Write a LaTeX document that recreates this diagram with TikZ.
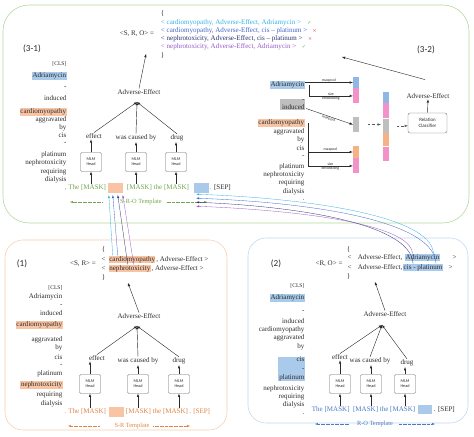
\documentclass[tikz,border=0pt]{standalone}
\usepackage{fontspec}
\setmainfont{Liberation Serif}
\newfontfamily\calib{Carlito}
\newfontfamily\symfont{DejaVu Sans}
\usepackage{tikz}
\usetikzlibrary{positioning}
\usetikzlibrary{calc}
\usepackage{xcolor}

\definecolor{boxgreen}{HTML}{B3D69C}
\definecolor{boxorange}{HTML}{F6CDB0}
\definecolor{boxblue}{HTML}{BFD7EE}
\definecolor{hlorange}{HTML}{F8C4A4}
\definecolor{hlblue}{HTML}{A9CAEA}
\definecolor{hlgray}{HTML}{BFBFBF}
\definecolor{vpink}{HTML}{F292C9}
\definecolor{vblue}{HTML}{8FB7E4}
\definecolor{vorange}{HTML}{F6B286}
\definecolor{tgreen}{HTML}{72A54E}
\definecolor{torange}{HTML}{E08445}
\definecolor{tblue}{HTML}{4A79C6}
\definecolor{lcyan}{HTML}{33B1E6}
\definecolor{lblue}{HTML}{4264C9}
\definecolor{lnavy}{HTML}{27326F}
\definecolor{lpurple}{HTML}{9659C7}
\definecolor{okgreen}{HTML}{40B56E}
\definecolor{nored}{HTML}{E5527F}
\definecolor{ink}{HTML}{2B2B2B}

\newcommand{\tokfont}{\fontsize{10}{12}\selectfont}
\newcommand{\clsfont}{\fontsize{8}{9}\selectfont}
\newcommand{\capfont}{\fontsize{9}{10}\selectfont}
\newcommand{\vlabfont}{\calib\fontsize{5.5}{6}\selectfont}

\tikzset{
  tok/.style={anchor=east, inner sep=0.5pt, font=\tokfont},
  tokhl/.style={tok, inner sep=1pt, fill=#1},
  wrd/.style={inner sep=1pt, font=\tokfont},
  seg/.style={inner sep=0.6pt, font=\tokfont, anchor=base west},
  mlm/.style={draw=gray!80!black, line width=0.5pt, rounded corners=2pt, minimum width=10.5mm, minimum height=9.5mm, align=center, inner sep=0pt, font=\calib\fontsize{6}{7}\selectfont},
  panel/.style={line width=0.8pt, rounded corners=#1},
  maskbox/.style={fill=#1, minimum width=7.5mm, minimum height=5mm, inner sep=0pt},
  vecbox/.style={fill=#1, minimum width=3mm, inner sep=0pt},
  lbl/.style={font=\calib\fontsize{13}{15}\selectfont},
  lnk/.style={line width=0.45pt, -latex, draw=#1},
  capline/.style={dash pattern=on 1pt off 0.8pt, line width=0.4pt, -latex},
  okmark/.style={inner sep=0.5pt, font=\symfont\fontsize{7}{8}\selectfont},
  vlab/.style={inner sep=0.5pt, font=\vlabfont}
}

\begin{document}
\begin{tikzpicture}[x=0.5mm, y=-0.5mm, line width=0.6pt, color=ink]
\useasboundingbox (0,0) rectangle (474,436);

% panels
\draw[panel=13mm, boxgreen] (3,5) rectangle (469,223);
\draw[panel=9mm, boxorange] (5,240) rectangle (227,430);
\draw[panel=9mm, boxblue] (248,238) rectangle (468,423);

% ---- (3-1) ----
\node[lbl] (lab31) at (32,49) {(3-1)};
\node[wrd] (sro31) at (137,34) {<S, R, O> =};
\node[wrd, anchor=west] (ob31) at (160,14) {\{};
\node[wrd, anchor=west, text=lcyan] (l1) at (160,23) {< cardiomyopathy, Adverse-Effect, Adriamycin >};
\node[wrd, anchor=west, text=lblue] (l2) at (160,31) {< cardiomyopathy, Adverse-Effect, cis -- platinum >};
\node[wrd, anchor=west, text=lnavy] (l3) at (160,39) {< nephrotoxicity, Adverse-Effect, cis -- platinum >};
\node[wrd, anchor=west, text=lpurple] (l4) at (160,47) {< nephrotoxicity, Adverse-Effect, Adriamycin >};
\node[wrd, anchor=west] (cb31) at (160,56) {\}};
\node[okmark, text=okgreen, right=2.5mm of l1] (k1) {✓};
\node[okmark, text=nored, right=2mm of l2] (k2) {×};
\node[okmark, text=nored, right=2mm of l3] (k3) {×};
\node[okmark, text=okgreen, right=2mm of l4] (k4) {✓};

\node[tok, font=\clsfont] (cls31) at (67,64) {[CLS]};
\node[tokhl=hlblue] (adr31) at (67,76) {Adriamycin};
\node[tokhl=hlorange] (car31) at (67,112) {cardiomyopathy};
\foreach \w/\y [count=\i] in {-/88, induced/98, aggravated/120, by/127.5, cis/135.5, -/144, platinum/155, nephrotoxicity/163, requiring/172, dialysis/180}
  \node[tok] (t31-\i) at (67,\y) {\w};

\node[wrd] (ae31) at (139,92) {Adverse-Effect};
\coordinate (top31) at (146,54);
\draw[-latex] (ae31.north) -- (top31);
\coordinate (c31) at (137,102);
\node[wrd] (e31) at (94,136) {effect};
\node[wrd] (w31) at (136,138) {was caused by};
\node[wrd] (d31) at (177,138) {drug};
\draw[-latex] (e31.north) -- (c31);
\draw[-latex] (w31.north) -- (c31);
\draw[-latex] (d31.north) -- (c31);
\node[mlm] (m311) at (91,162) {MLM\\Head};
\node[mlm] (m312) at (136,162) {MLM\\Head};
\node[mlm] (m313) at (176,162) {MLM\\Head};
\draw[-latex] (m311.north) -- (m311.north |- e31.south);
\draw[-latex] (m312.north) -- (m312.north |- w31.south);
\draw[-latex] (m313.north) -- (m313.north |- d31.south);

\node[wrd, anchor=east, text=tgreen] (t31a) at (107,188) {, The [MASK]};
\node[maskbox=hlorange] (mk31o) at (115.5,188) {};
\node[wrd, anchor=west, text=tgreen] (t31b) at (126,188) {[MASK] the [MASK]};
\node[maskbox=hlblue] (mk31b) at (201,188) {};
\node[wrd, anchor=west] (t31c) at (209,188) {\textcolor{tgreen}{.} [SEP]};
\draw[-latex] (m311.south |- t31a.north) -- (m311.south);
\draw[-latex] (m312.south |- t31b.north) -- (m312.south);
\draw[-latex] (m313.south |- t31b.north) -- (m313.south);

\node[wrd, font=\capfont, text=tgreen] (cap31) at (141,202) {S-R-O Template};
\coordinate (cap31l) at (70,202);
\coordinate (cap31r) at (207,202);
\draw[capline, tgreen, shorten <=8.5mm] (cap31.west) -- (cap31l);
\draw[capline, tgreen, shorten <=2mm] (cap31.east) -- (cap31r);

% ---- (3-2) ----
\node[lbl] (lab32) at (426,50) {(3-2)};
\node[tokhl=hlblue] (adr32) at (305,85) {Adriamycin};
\node[tok, fill=hlgray, text width=12mm, align=right, font=\fontsize{10}{12.5}\selectfont] (ind32) at (305,104.5) {-\\induced};
\node[tokhl=hlorange] (car32) at (305,123) {cardiomyopathy};
\foreach \w/\y [count=\i] in {aggravated/132, by/140, cis/148, -/157, platinum/167, nephrotoxicity/175, requiring/183, dialysis/192, ./200}
  \node[tok] (t32-\i) at (305,\y) {\w};

\node[vecbox=vblue, minimum height=5.5mm] (v1b) at (356,82.5) {};
\node[vecbox=vpink, minimum height=7.5mm, below=0pt of v1b] (v1p) {};
\node[vecbox=hlgray, minimum height=7.5mm] (v2) at (356,124.5) {};
\node[vecbox=vorange, minimum height=6mm] (v3o) at (356,152) {};
\node[vecbox=vpink, minimum height=7.5mm, below=0pt of v3o] (v3p) {};

\node[vecbox=vblue, minimum height=5.5mm] (vc1) at (386,97.5) {};
\node[vecbox=vpink, minimum height=7.5mm, below=0pt of vc1] (vc2) {};
\node[vecbox=hlgray, minimum height=7mm, below=0pt of vc2] (vc3) {};
\node[vecbox=vorange, minimum height=6.5mm, below=0pt of vc3] (vc4) {};
\node[vecbox=vpink, minimum height=7mm, below=0pt of vc4] (vc5) {};

\draw[-latex] (adr32.east |- v1b) -- (v1b.west) node[vlab, midway, above] {maxpool};
\coordinate (sz32) at ($(adr32.east)+(4,0)$);
\draw[-latex] (sz32) |- (v1p.west) node[vlab, pos=0.75, above] {size} node[vlab, pos=0.75, below] {embedding};
\draw[-latex] ($(ind32.east)+(1,4)$) -- (v2.west) node[vlab, midway, sloped, below] {maxpool};
\coordinate (br32) at ($(car32.east)+(3,0)$);
\draw (br32) -- (br32 |- v3p);
\draw[-latex] (br32 |- v3o) -- (v3o.west) node[vlab, midway, above] {maxpool};
\draw[-latex] (br32 |- v3p) -- (v3p.west) node[vlab, midway, above] {size} node[vlab, midway, below] {embedding};

\node[draw=gray!80!black, line width=0.5pt, rounded corners=3pt, minimum width=19.5mm, minimum height=10mm, align=center, inner sep=0pt, font=\calib\fontsize{7}{8.5}\selectfont] (rc) at (427.5,123) {Relation\\Classifier};
\draw[dashed, -latex, gray!70!black, shorten <=4.5mm, shorten >=1mm] (v2.east) -- (v2.east -| vc3.west);
\draw[dashed, -latex, gray!70!black, shorten <=4mm] (vc3.east) -- (vc3.east -| rc.west);
\node[wrd] (ae32) at (428,96) {Adverse-Effect};
\draw[-latex] (rc.north) -- (ae32.south);
\coordinate (top32) at (342,57);
\draw[-latex] ($(ae32.north)+(-3,-13)$) -- (top32);

% ---- (1) ----
\node[lbl] (lab1) at (22,264) {(1)};
\node[wrd] (sr1) at (83,264) {<S, R> =};
\node[wrd, anchor=west] (ob1) at (101,250) {\{};
\node[seg] (lt11) at (101,261) {<};
\node[seg, fill=hlorange] (car1) at ($(lt11.base east)+(2.5,0)$) {cardiomyopathy};
\node[seg] (rest11) at (car1.base east) {, Adverse-Effect >};
\node[seg] (lt12) at (101,270) {<};
\node[seg, fill=hlorange] (nep1) at ($(lt12.base east)+(2.5,0)$) {nephrotoxicity};
\node[seg] (rest12) at (nep1.base east) {, Adverse-Effect >};
\node[wrd, anchor=west] (cb1) at (101,278) {\}};

\node[tok, font=\clsfont] (cls1) at (63,288) {[CLS]};
\node[tokhl=hlorange] (car1t) at (63,325) {cardiomyopathy};
\node[tokhl=hlorange] (nep1t) at (63,385) {nephrotoxicity};
\foreach \w/\y [count=\i] in {Adriamycin/297, -/306, induced/313, aggravated/340, by/348, cis/357, -/366, platinum/374, requiring/395, dialysis/404}
  \node[tok] (t1-\i) at (63,\y) {\w};

\node[wrd] (ae1) at (139,316) {Adverse-Effect};
\coordinate (top1) at (128,283);
\draw[-latex] (ae1.north) -- (top1);
\coordinate (c1) at (137,326);
\node[wrd] (e1) at (97,358) {effect};
\node[wrd] (w1) at (138,361) {was caused by};
\node[wrd] (d1) at (179,361) {drug};
\draw[-latex] (e1.north) -- (c1);
\draw[-latex] (w1.north) -- (c1);
\draw[-latex] (d1.north) -- (c1);
\node[mlm] (m11) at (90,384) {MLM\\Head};
\node[mlm] (m12) at (138,384) {MLM\\Head};
\node[mlm] (m13) at (179,384) {MLM\\Head};
\draw[-latex] (m11.north) -- (m11.north |- e1.south);
\draw[-latex] (m12.north) -- (m12.north |- w1.south);
\draw[-latex] (m13.north) -- (m13.north |- d1.south);

\node[wrd, anchor=east, text=torange] (t1a) at (107,412) {. The [MASK]};
\node[maskbox=hlorange] (mk1o) at (116,412) {};
\node[wrd, anchor=west, text=torange] (t1b) at (125,412) {[MASK] the [MASK] . [SEP]};
\draw[-latex] (m11.south |- t1a.north) -- (m11.south);
\draw[-latex] (m12.south |- t1b.north) -- (m12.south);
\draw[-latex] (m13.south |- t1b.north) -- (m13.south);

\node[wrd, font=\capfont, text=torange] (cap1) at (132,426) {S-R Template};
\coordinate (cap1l) at (68,426);
\coordinate (cap1r) at (190,426);
\draw[capline, torange, shorten <=7mm] (cap1.west) -- (cap1l);
\draw[capline, torange, shorten <=1.5mm] (cap1.east) -- (cap1r);

% ---- (2) ----
\node[lbl] (lab2) at (276,264) {(2)};
\node[wrd] (ro2) at (329,264) {<R, O> =};
\node[wrd, anchor=west] (ob2) at (346,250) {\{};
\node[seg] (lt21) at (347,259) {<};
\node[seg] (ae21) at ($(lt21.base east)+(5,0)$) {Adverse-Effect,};
\node[seg, fill=hlblue] (adr2) at ($(ae21.base east)+(2,0)$) {Adriamycin};
\node[seg] (gt21) at ($(adr2.base east)+(12,0)$) {>};
\node[seg] (lt22) at (347,269) {<};
\node[seg] (ae22) at ($(lt22.base east)+(5,0)$) {Adverse-Effect,};
\node[seg, fill=hlblue] (cis2) at (ae22.base east) {cis - platinum};
\node[seg] (gt22) at ($(cis2.base east)+(5,0)$) {>};
\node[wrd, anchor=west] (cb2) at (346,277) {\}};

\node[tok, font=\clsfont] (cls2) at (305,286) {[CLS]};
\node[tokhl=hlblue] (adr2t) at (305,298) {Adriamycin};
\node[tok, fill=hlblue, text width=13mm, align=right, font=\fontsize{10}{12.5}\selectfont] (cis2t) at (305,369) {cis\\-\\platinum};
\foreach \w/\y [count=\i] in {-/312, induced/321, cardiomyopathy/330, aggravated/338, by/347, nephrotoxicity/389, requiring/397, dialysis/405, ./414}
  \node[tok] (t2-\i) at (305,\y) {\w};

\node[wrd] (ae2) at (385,314) {Adverse-Effect};
\coordinate (top2) at (375,282);
\draw[-latex] (ae2.north) -- (top2);
\coordinate (c2) at (382,325);
\node[wrd] (e2) at (340,357) {effect};
\node[wrd] (w2) at (370,361) {was caused by};
\node[wrd] (d2) at (407,363) {drug};
\draw[-latex] (e2.north) -- (c2);
\draw[-latex] (w2.north) -- (c2);
\draw[-latex] (d2.north) -- (c2);
\node[mlm] (m21) at (340,384) {MLM\\Head};
\node[mlm] (m22) at (371,384) {MLM\\Head};
\node[mlm] (m23) at (405,384) {MLM\\Head};
\draw[-latex] (m21.north) -- (m21.north |- e2.south);
\draw[-latex] (m22.north) -- (m22.north |- w2.south);
\draw[-latex] (m23.north) -- (m23.north |- d2.south);

\node[wrd, anchor=west, text=tblue] (t2a) at (311,410) {The [MASK]\ \ [MASK] the [MASK]};
\node[maskbox=hlblue, minimum width=7mm, minimum height=4.5mm] (mk2b) at (425,409.5) {};
\node[wrd, anchor=west] (t2b) at (433,410) {. [SEP]};
\draw[-latex] (m21.south |- t2a.north) -- (m21.south);
\draw[-latex] (m22.south |- t2a.north) -- (m22.south);
\draw[-latex] (m23.south |- t2a.north) -- (m23.south);

\node[wrd, font=\capfont, text=tblue] (cap2) at (375,424) {R-O Template};
\coordinate (cap2l) at (315,424);
\coordinate (cap2r) at (435,424);
\draw[capline, tblue, shorten <=3.5mm] (cap2.west) -- (cap2l);
\draw[capline, tblue, shorten <=2.5mm] (cap2.east) -- (cap2r);

% ---- fills into the (3-1) template ----
\draw[lnk=lcyan] ($(car1.north west)+(4,0)$) -- ($(mk31o.south west)+(1,2)$);
\draw[lnk=lblue] ($(car1.north west)+(9,0)$) -- ($(mk31o.south west)+(5,2)$);
\draw[lnk=lnavy] ($(nep1.north west)+(19,0)$) -- ($(mk31o.south west)+(10,2)$);
\draw[lnk=lpurple] ($(nep1.north west)+(25,0)$) -- ($(mk31o.south west)+(15,2)$);

\draw[lnk=lcyan] ($(adr2.north)+(11,0)$) .. controls +(-2,-38) and +(110,4) .. ($(mk31b.south west)+(3,1)$);
\draw[lnk=lblue] ($(cis2.north)+(13,0)$) .. controls +(-2,-44) and +(110,4) .. ($(mk31b.south west)+(3,5)$);
\draw[lnk=lnavy] ($(cis2.north)+(-10,0)$) .. controls +(-2,-40) and +(100,4) .. ($(mk31b.south west)+(3,9)$);
\draw[lnk=lpurple] ($(adr2.north)+(-10,0)$) .. controls +(-2,-30) and +(100,4) .. ($(mk31b.south west)+(3,13)$);
\end{tikzpicture}
\end{document}
